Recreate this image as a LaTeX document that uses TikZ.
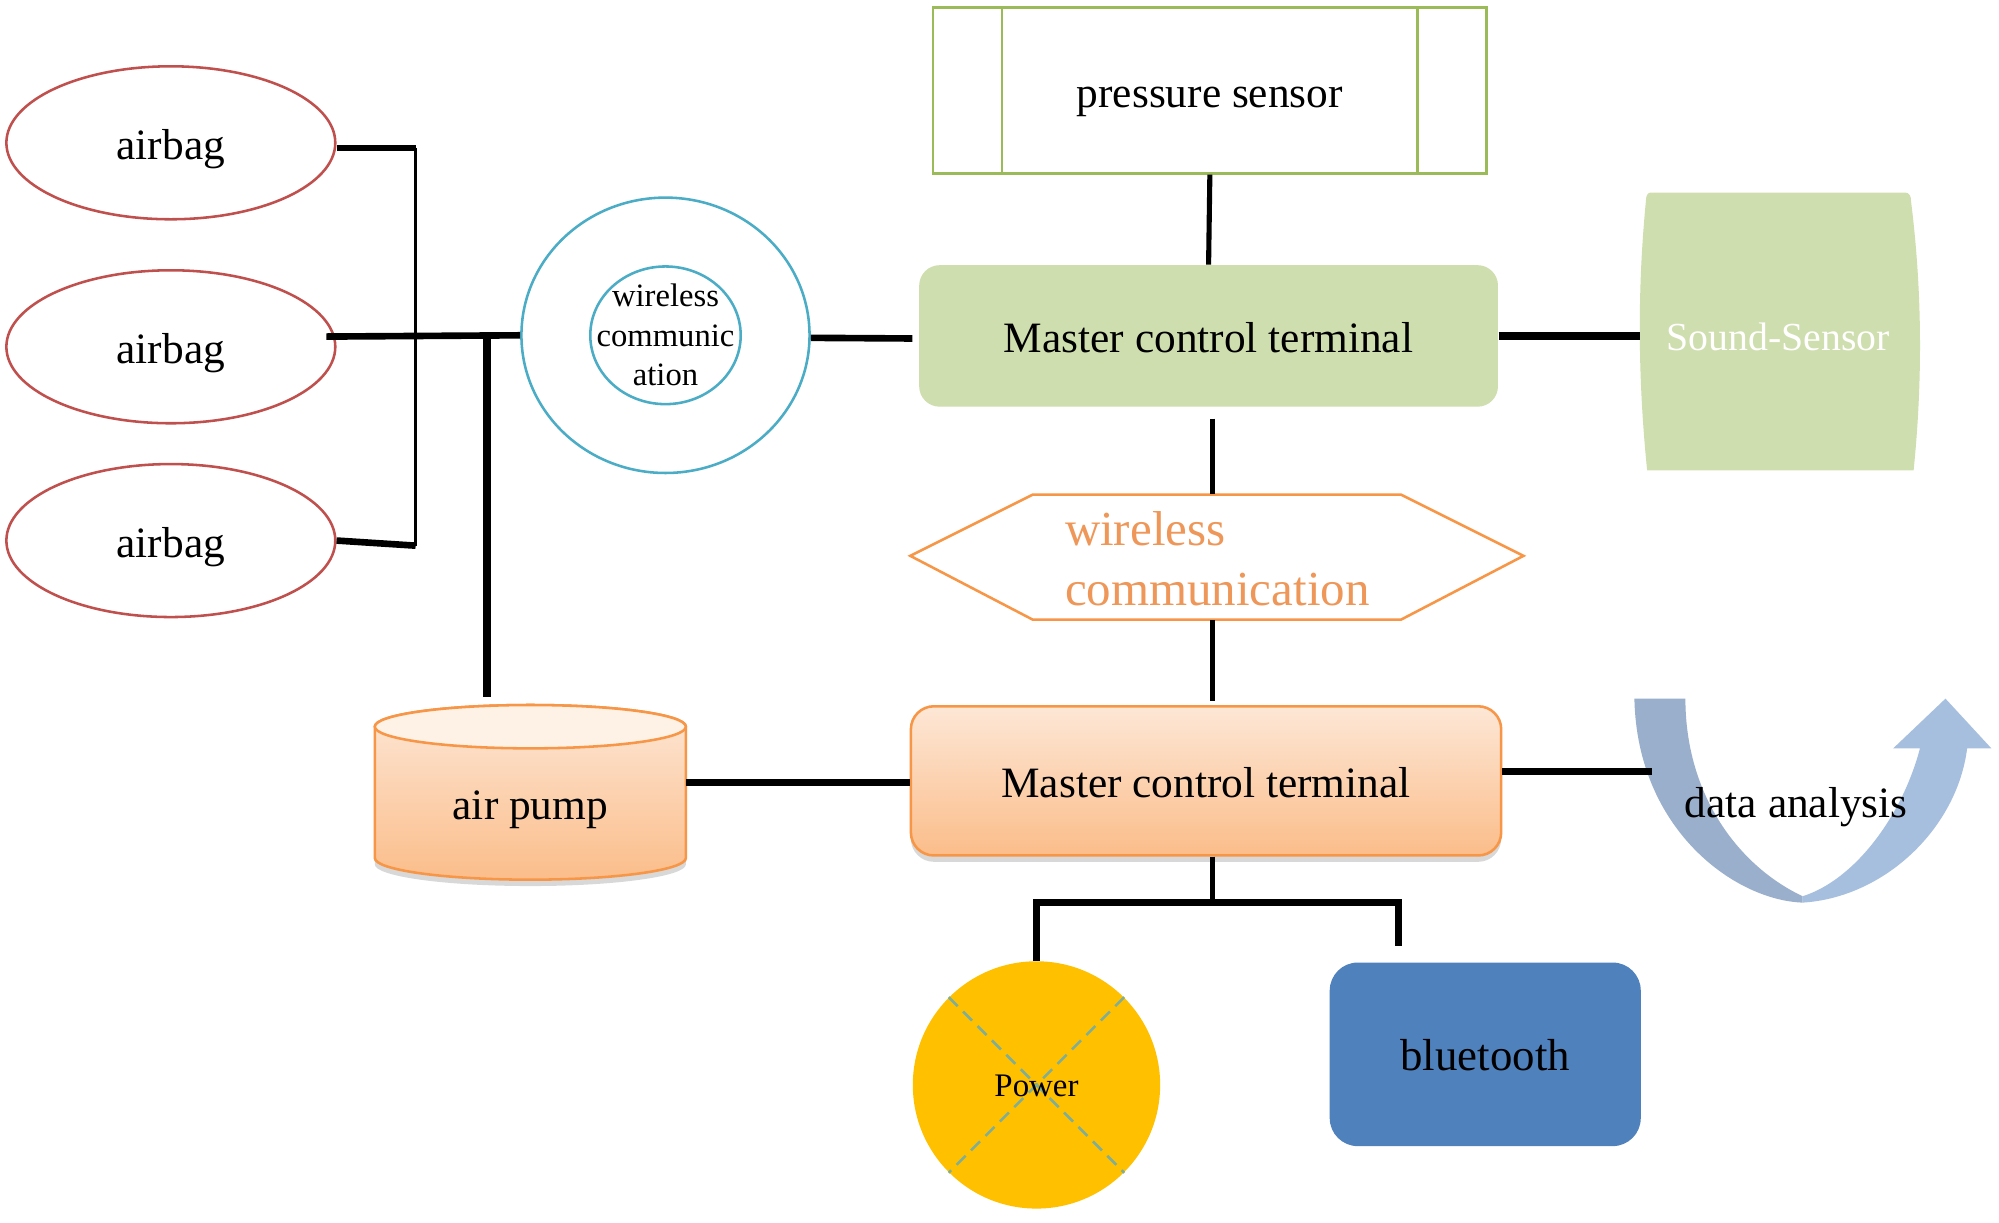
\documentclass[tikz,border=0pt]{standalone}
\usepackage{fontspec}
\setmainfont{Liberation Serif}
\usetikzlibrary{shapes.geometric,shadows}
\definecolor{bagred}{HTML}{C0504D}
\definecolor{wcteal}{HTML}{4BACC6}
\definecolor{psgreen}{HTML}{9BBB59}
\definecolor{mgreen}{HTML}{CFDEAE}
\definecolor{orgline}{HTML}{F79646}
\definecolor{orgtext}{HTML}{EE9758}
\definecolor{mtop}{HTML}{FDE7D6}
\definecolor{mbot}{HTML}{FBBD8A}
\definecolor{pwrfill}{HTML}{FFC000}
\definecolor{btblue}{HTML}{4F81BD}
\definecolor{arrdark}{HTML}{9AAFCB}
\definecolor{arrlight}{HTML}{A6BFDE}
\definecolor{xdash}{HTML}{7FAE98}
\newcommand\fsz[2]{\fontsize{#1}{#2}\selectfont}
\begin{document}
\begin{tikzpicture}[x=0.5pt,y=-0.5pt,
  thk/.style={line width=2.6pt},
  thn/.style={line width=1.2pt},
  txt/.style={font=\fsz{17}{20},text height=13pt,text depth=0pt},
  bag/.style={ellipse,draw=bagred,line width=1pt,minimum width=129pt,minimum height=60pt,inner sep=0pt,txt},
  ghost/.style={rectangle,inner sep=0pt,draw=none},
  shad/.style={drop shadow={shadow xshift=0pt,shadow yshift=-2.5pt,opacity=0.3}}
]
\useasboundingbox[fill=white] (0,0) rectangle (1568,959);

% ---------- airbags ----------
\node[bag] (a1) at (134,112) {airbag};
\node[bag] (a2) at (134,272) {airbag};
\node[bag] (a3) at (134,424) {airbag};

% ---------- wireless circles ----------
\node[ellipse,draw=wcteal,line width=1pt,minimum width=113pt,minimum height=108pt,inner sep=0pt] (wc) at (522,263) {};
\node[ellipse,draw=wcteal,line width=1pt,minimum width=59pt,minimum height=54pt,inner sep=0pt] (wci) at (522,263) {};
\node[align=center,inner sep=0pt,font=\fsz{12.8}{15.5}] (wct) at (522,263) {wireless\\communic\\ation};

% ---------- pressure sensor ----------
\node[rectangle,draw=psgreen,line width=1pt,minimum width=217pt,minimum height=65pt,inner sep=0pt,txt] (ps) at (949,71) {pressure sensor};
\draw[psgreen,line width=1pt] ([xshift=27.5pt]ps.north west) -- ([xshift=27.5pt]ps.south west);
\draw[psgreen,line width=1pt] ([xshift=-27.5pt]ps.north east) -- ([xshift=-27.5pt]ps.south east);

% ---------- master control terminal 1 ----------
\node[rectangle,rounded corners=8pt,fill=mgreen,minimum width=227pt,minimum height=55.5pt,inner sep=0pt,txt] (mct1) at (948,263.5) {Master control terminal};

% ---------- sound sensor ----------
\fill[mgreen] (1295,151) -- (1494,151) .. controls (1498,151) and (1499,154) .. (1499,158)
  .. controls (1508,230) and (1508,300) .. (1501,369) -- (1292,369)
  .. controls (1285,300) and (1284,230) .. (1291,158)
  .. controls (1291,154) and (1292,151) .. (1295,151) -- cycle;
\node[ghost,minimum width=110pt,minimum height=109pt] (ss) at (1397,260) {};
\node[text=white,font=\fsz{15.6}{18}] (sst) at (1395,264) {Sound-Sensor};

% ---------- hexagon ----------
\draw[orgline,line width=1pt] (714,436) -- (810,388) -- (1099,388) -- (1195,436) -- (1099,486) -- (810,486) -- cycle;
\node[ghost,minimum width=240.5pt,minimum height=49pt] (hex) at (951,437) {};
\node[anchor=west,align=left,inner sep=0pt,text=orgtext,font=\fsz{19.2}{23.5}] (hext) at (835,438) {wireless\\communication};

% ---------- master control terminal 2 ----------
\node[rectangle,rounded corners=9pt,draw=orgline,line width=1pt,top color=mtop,bottom color=mbot,
      minimum width=231.5pt,minimum height=58.5pt,inner sep=0pt,shad,txt] (mct2) at (946,612.5) {Master control terminal};

% ---------- air pump ----------
\path[draw=orgline,line width=1pt,top color=mtop,bottom color=mbot,shad]
  (294,570) -- (294,673) arc[start angle=180,end angle=360,x radius=61pt,y radius=8.5pt]
  -- (538,570) arc[start angle=0,end angle=180,x radius=61pt,y radius=8.5pt] -- cycle;
\draw[orgline,line width=1pt,fill=mtop!60!white] (416,570) ellipse[x radius=61pt,y radius=8.5pt];
\node[ghost,minimum width=122pt,minimum height=68.5pt] (pump) at (416,621) {};
\node[txt] (pumpt) at (416,630) {air pump};

% ---------- data analysis arrow ----------
\fill[arrdark] (1282,548) .. controls (1284,650) and (1360,706) .. (1414,708)
  -- (1414,703) .. controls (1365,680) and (1322,625) .. (1322,548) -- cycle;
\fill[arrlight] (1414,708) .. controls (1478,704) and (1535,650) .. (1543,587)
  -- (1562,587) -- (1526,548) -- (1485,587) -- (1506,587)
  .. controls (1492,640) and (1455,690) .. (1414,703) -- cycle;
\node[txt] (da) at (1409,628) {data analysis};
\coordinate (daEnd) at (1296,605);

% ---------- power ----------
\node[circle,fill=pwrfill,minimum size=97pt,inner sep=0pt] (pwr) at (813,851) {};
\draw[xdash,line width=1pt,dash pattern=on 5pt off 3pt] (pwr.north west) -- (pwr.south east);
\draw[xdash,line width=1pt,dash pattern=on 5pt off 3pt] (pwr.north east) -- (pwr.south west);
\node[font=\fsz{12.9}{15}] (pwrt) at (813,852) {Power};

% ---------- bluetooth ----------
\node[rectangle,rounded corners=11pt,fill=btblue,minimum width=122pt,minimum height=72pt,inner sep=0pt,font=\fsz{17.6}{20},text height=13pt,text depth=0pt] (bt) at (1165,827) {bluetooth};

% ---------- connectors ----------
\coordinate (busT) at (326,116);
\coordinate (busB) at (326,428);
\draw[thn] (busT) -- (busB);
\draw[thk] ([yshift=-2pt]a1.east) -- (busT);
\draw[thk] (a3.east) -- (busB);
\draw[thk] ([xshift=-4pt,yshift=4pt]a2.east) -- (wc.west);
\coordinate (j1) at (382,264);
\draw[line width=3pt] (j1) -- ([yshift=2.5pt]j1 |- pump.north);
\draw[thk] ([yshift=-1pt]wc.east) -- ([xshift=-2.5pt,yshift=-1pt]mct1.west);
\draw[line width=2pt] (ps.south) -- (mct1.north);
\draw[line width=3pt] (mct1.east) -- (mct1.east -| ss.west);
\draw[line width=2.2pt] ([yshift=-4.5pt]mct1.south -| hex.north) -- (hex.north);
\draw[line width=2.2pt] (hex.south) -- ([yshift=1.5pt]mct2.north -| hex.south);
\draw[thk] ([yshift=3.5pt]pump.east) -- ([yshift=3.5pt]pump.east -| mct2.west);
\draw[thk] (mct2.east |- daEnd) -- (daEnd);
\coordinate (tj) at (951,708);
\coordinate (tl) at (813,708);
\coordinate (tr) at (1097,708);
\coordinate (btEnd) at (1097,742);
\draw[line width=2.2pt] (mct2.south -| tj) -- (tj);
\draw[line width=3pt] ([xshift=-1.2pt]tl) -- ([xshift=1.2pt]tr);
\draw[thk] (tl) -- (pwr.north);
\draw[thk] (tr) -- (btEnd);
\end{tikzpicture}
\end{document}
